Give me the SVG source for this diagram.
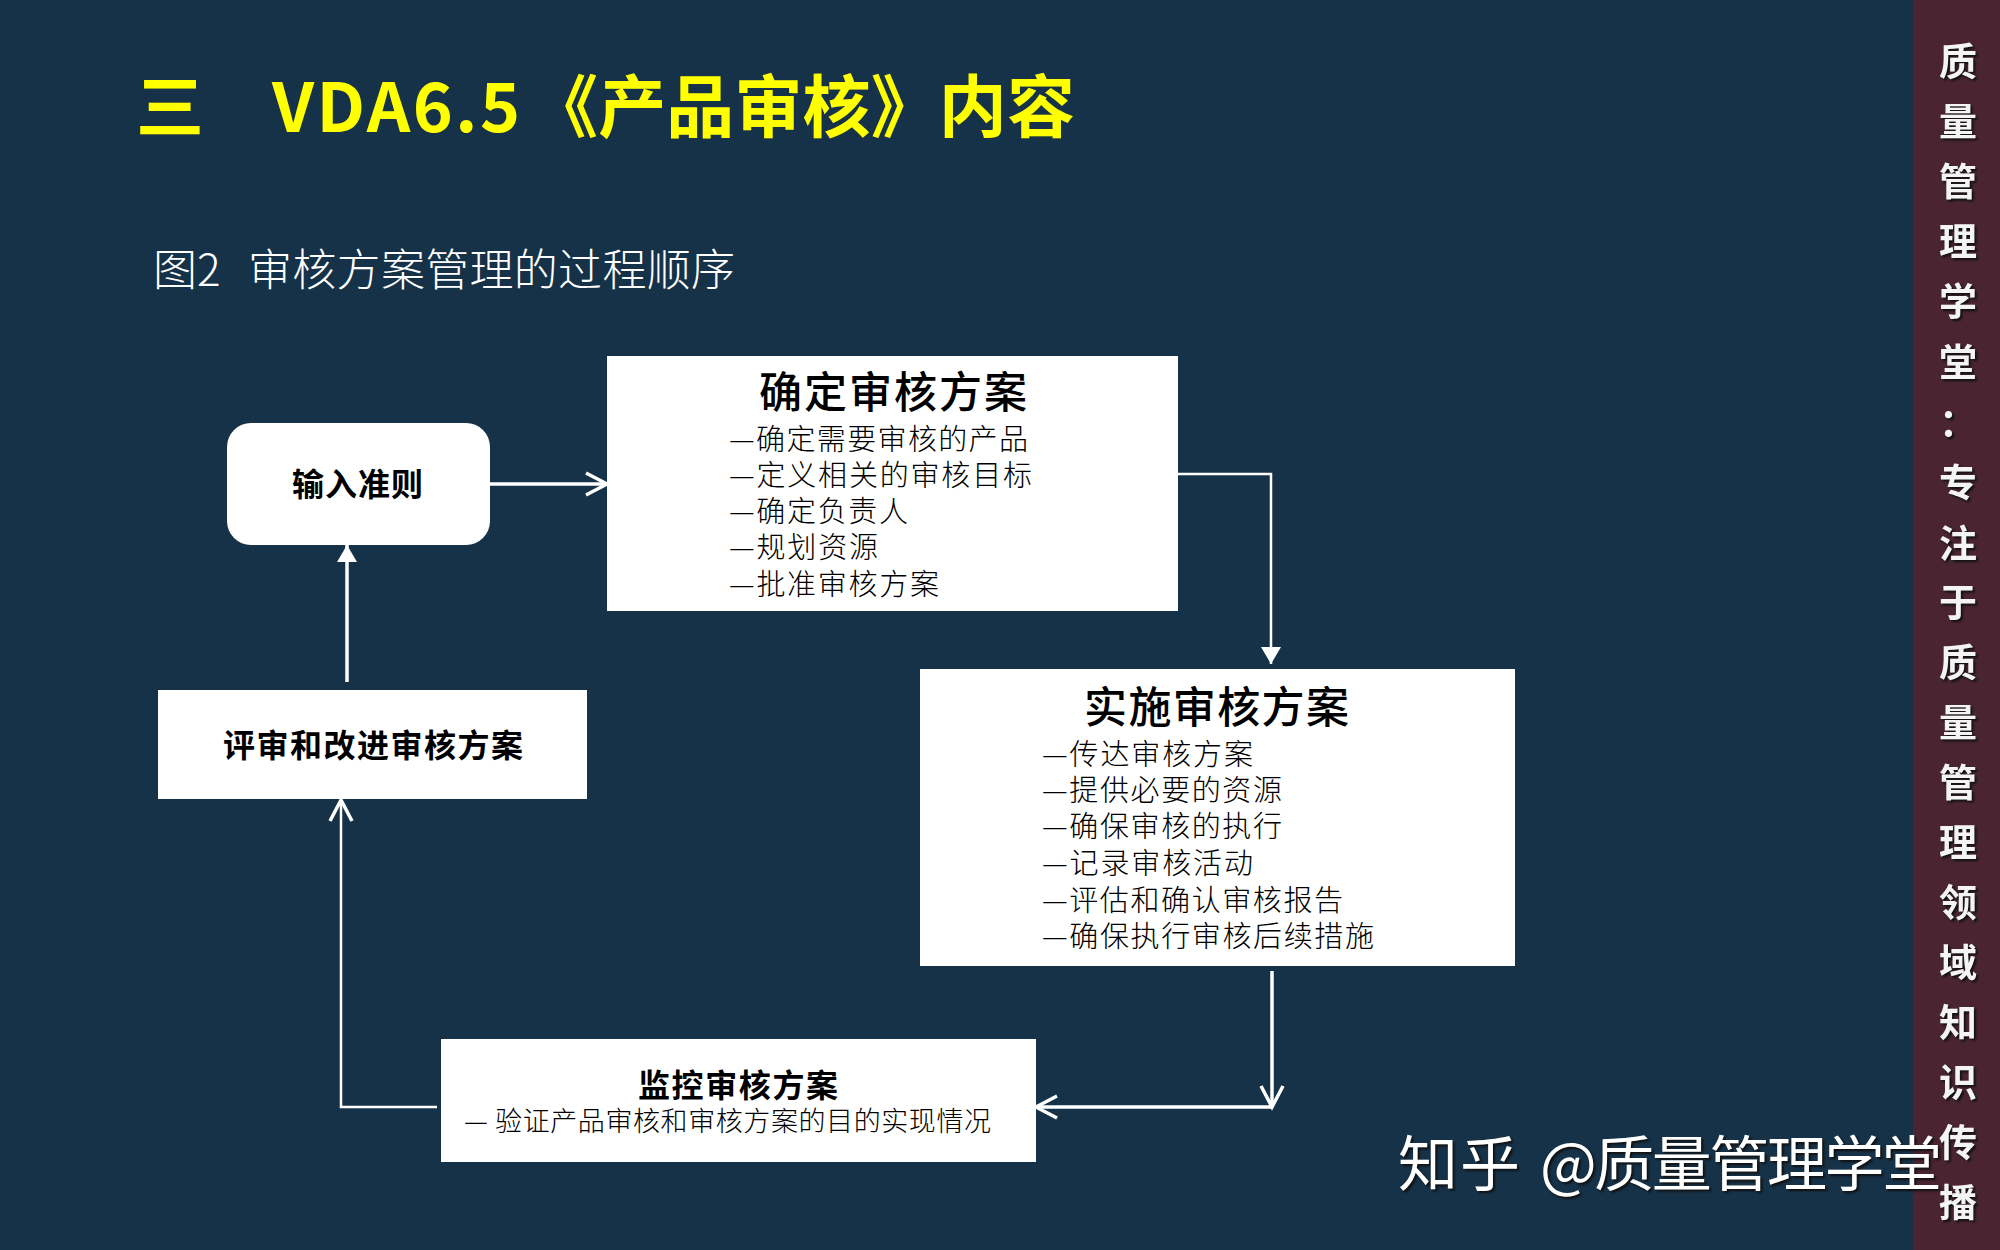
<svg xmlns="http://www.w3.org/2000/svg" width="2000" height="1250" viewBox="0 0 2000 1250">
<style>
text{font-family:"Noto Sans CJK SC","Liberation Sans",sans-serif}
.box{fill:#fff}
.h{font-size:43px;font-weight:500;fill:#000}
.m{font-size:32px;font-weight:700;fill:#000}
.i{font-size:29px;font-weight:300;fill:#000}
.c{fill:none;stroke:#fff;stroke-width:3.5}
.t{stroke-width:2.5}
.side{font-size:38px;font-weight:700;fill:#f4f4f4;text-anchor:middle;filter:drop-shadow(2px 2px 1px #111)}
</style>
<defs>
<marker id="open" markerUnits="userSpaceOnUse" markerWidth="30" markerHeight="30" refX="24" refY="15" orient="auto" overflow="visible"><path d="M3 4 L24 15 L3 26" fill="none" stroke="#fff" stroke-width="3.5"/></marker>
<marker id="tri" markerUnits="userSpaceOnUse" markerWidth="24" markerHeight="24" refX="17" refY="10" orient="auto" overflow="visible"><path d="M0 0 L17 10 L0 20 Z" fill="#fff"/></marker>
</defs>
<rect width="2000" height="1250" fill="#163248"/>
<rect x="1913" width="87" height="1250" fill="#4a2531"/>
<g id="title"><text y="132" font-size="68" font-weight="700" fill="#ffff00"><tspan x="136">三</tspan><tspan x="272" textLength="248">VDA6.5</tspan><tspan x="530" textLength="545">《产品审核》内容</tspan></text></g>
<g id="subtitle"><text y="286" font-size="44" font-weight="300" fill="#fff"><tspan x="153">图2</tspan><tspan x="248" textLength="487">审核方案管理的过程顺序</tspan></text></g>
<g id="connectors">
<path class="c" marker-end="url(#open)" d="M490 484H607"/>
<path class="c t" marker-end="url(#tri)" d="M1178 474H1271V664"/>
<path class="c" marker-end="url(#tri)" d="M347 682V545"/>
<path class="c t" marker-end="url(#open)" d="M437 1107H341V800"/>
<path class="c" marker-end="url(#open)" d="M1272 971V1107"/>
<path class="c" marker-end="url(#open)" d="M1272 1107H1036"/>
</g>
<g id="node-input"><rect class="box" x="227" y="423" width="263" height="122" rx="24"/><text class="m" x="292" y="496" textLength="131">输入准则</text></g>
<g id="node-plan"><rect class="box" x="607" y="356" width="571" height="255"/>
<text class="h" x="759" y="408" textLength="268">确定审核方案</text>
<text class="i" x="729" y="450" textLength="299">—确定需要审核的产品</text>
<text class="i" x="729" y="486" textLength="303">—定义相关的审核目标</text>
<text class="i" x="729" y="522" textLength="179">—确定负责人</text>
<text class="i" x="729" y="558" textLength="149">—规划资源</text>
<text class="i" x="729" y="595" textLength="210">—批准审核方案</text></g>
<g id="node-implement"><rect class="box" x="920" y="669" width="595" height="297"/>
<text class="h" x="1084" y="723" textLength="265">实施审核方案</text>
<text class="i" x="1042" y="765" textLength="211">—传达审核方案</text>
<text class="i" x="1042" y="801" textLength="240">—提供必要的资源</text>
<text class="i" x="1042" y="837" textLength="240">—确保审核的执行</text>
<text class="i" x="1042" y="874" textLength="211">—记录审核活动</text>
<text class="i" x="1042" y="911" textLength="301">—评估和确认审核报告</text>
<text class="i" x="1042" y="947" textLength="332">—确保执行审核后续措施</text></g>
<g id="node-monitor"><rect class="box" x="441" y="1039" width="595" height="123"/>
<text class="m" x="638" y="1097" textLength="200">监控审核方案</text>
<text class="i" x="464" y="1131" style="font-size:27px" textLength="527">— 验证产品审核和审核方案的目的实现情况</text></g>
<g id="node-review"><rect class="box" x="158" y="690" width="429" height="109"/><text class="m" x="223" y="757" textLength="300">评审和改进审核方案</text></g>
<g id="sidebar">
<text class="side" x="1958" y="75">质</text><text class="side" x="1958" y="135">量</text><text class="side" x="1958" y="195">管</text><text class="side" x="1958" y="255">理</text><text class="side" x="1958" y="315">学</text><text class="side" x="1958" y="376">堂</text><text class="side" x="1958" y="436">：</text><text class="side" x="1958" y="496">专</text><text class="side" x="1958" y="557">注</text><text class="side" x="1958" y="616">于</text><text class="side" x="1958" y="676">质</text><text class="side" x="1958" y="736">量</text><text class="side" x="1958" y="796">管</text><text class="side" x="1958" y="856">理</text><text class="side" x="1958" y="916">领</text><text class="side" x="1958" y="976">域</text><text class="side" x="1958" y="1036">知</text><text class="side" x="1958" y="1096">识</text><text class="side" x="1958" y="1156">传</text><text class="side" x="1958" y="1216">播</text>
</g>
<g id="watermark"><text y="1186" font-size="60" fill="#fff" style="filter:drop-shadow(2px 2px 1px #111)"><tspan x="1398" textLength="122">知乎</tspan><tspan x="1540" textLength="402">@质量管理学堂</tspan></text></g>
</svg>
